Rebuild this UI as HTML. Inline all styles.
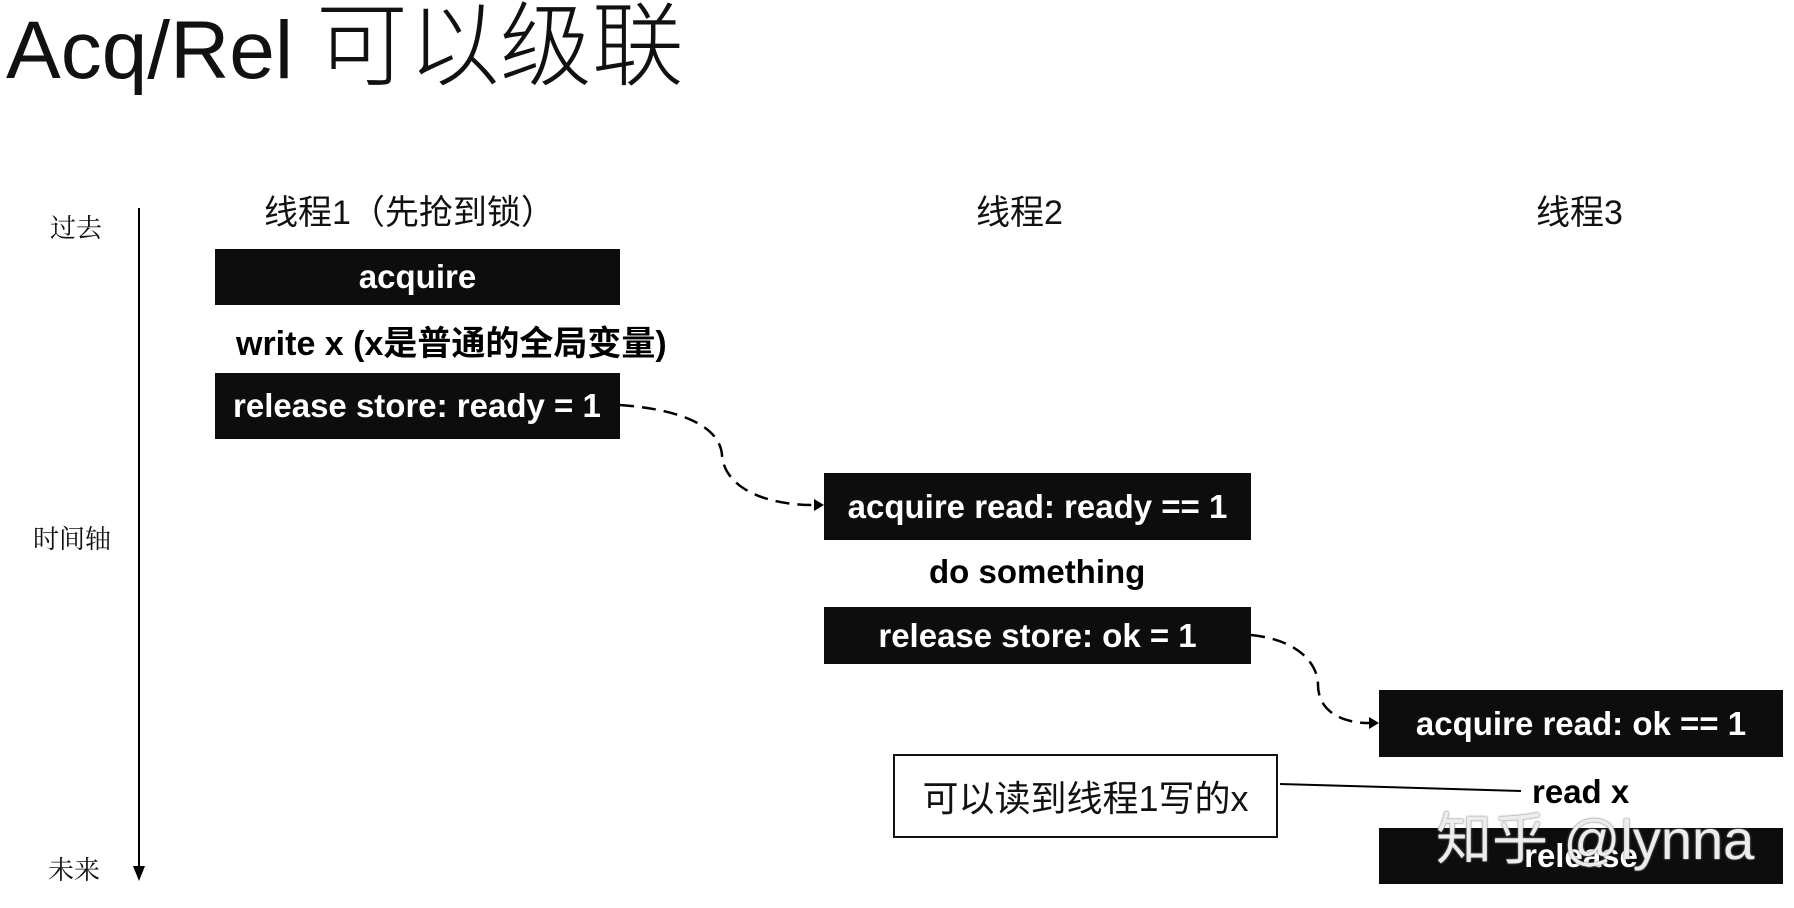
<!DOCTYPE html>
<html><head><meta charset="utf-8"><style>
body{margin:0;width:1794px;height:908px;background:#fff;position:relative;overflow:hidden;font-family:"Liberation Sans","Noto Sans CJK SC",sans-serif;}
.a{position:absolute;white-space:nowrap;}
.box{position:absolute;background:#0d0d0d;color:#fff;font-family:"Liberation Sans","Noto Sans CJK SC",sans-serif;font-weight:bold;font-size:33px;display:flex;align-items:center;justify-content:center;}
.b{font-family:"Liberation Sans","Noto Sans CJK SC",sans-serif;font-weight:bold;font-size:33px;color:#000;}
.h{font-size:34px;color:#111;font-family:"Liberation Sans","Noto Sans CJK SC",sans-serif;}
.s{font-size:26px;color:#111;font-family:"Liberation Serif","Noto Serif CJK SC",serif;}
</style></head><body>
<div class="a" style="left:6px;top:-1px;font-size:82px;line-height:96px;color:#111;font-family:'Liberation Sans','Noto Sans CJK SC',sans-serif;">Acq/Rel <span style="font-size:92px;font-weight:300;">可以级联</span></div>

<div class="a s" style="left:50px;top:208px;">过去</div>
<div class="a s" style="left:33px;top:519px;">时间轴</div>
<div class="a s" style="left:48px;top:850px;">未来</div>

<div class="a h" style="left:264px;top:185px;">线程1（先抢到锁）</div>
<div class="a h" style="left:976px;top:185px;">线程2</div>
<div class="a h" style="left:1536px;top:185px;">线程3</div>

<div class="box" style="left:215px;top:249px;width:405px;height:56px;">acquire</div>
<div class="a b" style="left:236px;top:316px;font-size:34px;">write x (x是普通的全局变量)</div>
<div class="box" style="left:215px;top:373px;width:405px;height:66px;justify-content:flex-start;padding-left:18px;box-sizing:border-box;">release store: ready = 1</div>

<div class="box" style="left:824px;top:473px;width:427px;height:67px;">acquire read: ready == 1</div>
<div class="a b" style="left:929px;top:553px;">do something</div>
<div class="box" style="left:824px;top:607px;width:427px;height:57px;">release store: ok = 1</div>

<div class="box" style="left:1379px;top:690px;width:404px;height:67px;">acquire read: ok == 1</div>
<div class="a b" style="left:1532px;top:773px;">read x</div>
<div class="box" style="left:1379px;top:828px;width:404px;height:56px;">release</div>

<div class="a" style="left:893px;top:754px;width:385px;height:84px;border:2px solid #111;box-sizing:border-box;display:flex;align-items:center;justify-content:center;font-size:36px;color:#111;font-family:'Liberation Sans','Noto Sans CJK SC',sans-serif;">可以读到线程1写的x</div>

<svg class="a" style="left:0;top:0" width="1794" height="908">
<line x1="139" y1="208" x2="139" y2="866" stroke="#000" stroke-width="2"/>
<polygon points="133,866 145,866 139,881" fill="#000"/>
<path d="M620,405 C690,410 720,430 722,455 C724,485 760,505 814,505" fill="none" stroke="#000" stroke-width="2.5" stroke-dasharray="14,8"/>
<polygon points="814,499 824,505 814,511" fill="#000"/>
<path d="M1251,635 C1300,640 1318,665 1318,685 C1318,710 1340,723 1369,723" fill="none" stroke="#000" stroke-width="2.5" stroke-dasharray="14,8"/>
<polygon points="1369,717 1379,723 1369,729" fill="#000"/>
<line x1="1280" y1="784" x2="1521" y2="791" stroke="#000" stroke-width="2"/>
</svg>
<div class="a" style="left:1436px;top:795px;font-size:56px;color:rgba(255,255,255,0.85);text-shadow:0 0 2px #888,0 0 1px #666;font-family:'Liberation Sans','Noto Sans CJK SC',sans-serif;">知乎 @lynna</div>
</body></html>
